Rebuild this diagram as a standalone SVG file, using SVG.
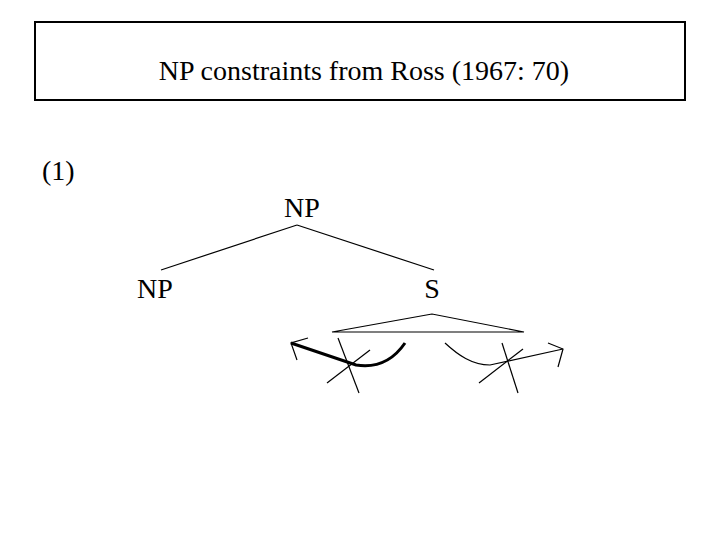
<svg xmlns="http://www.w3.org/2000/svg" width="720" height="540" viewBox="0 0 720 540">
<style>
text{font-family:"Liberation Serif","Times New Roman",serif;fill:#000}
.t{font-size:28px}
.n{font-size:28px}
.l{stroke:#000;stroke-width:1.2;fill:none}
.k{stroke:#000;stroke-width:3;fill:none}
</style>
<rect x="0" y="0" width="720" height="540" fill="#fff"/>
<g id="title">
<rect x="35" y="22" width="650" height="78" fill="#fff" stroke="#000" stroke-width="2"/>
<text class="t" x="364" y="80" text-anchor="middle">NP constraints from Ross (1967: 70)</text>
</g>
<g id="ex"><text class="t" x="42" y="180">(1)</text></g>
<g id="np-top"><text class="n" x="302" y="217" text-anchor="middle">NP</text></g>
<g id="np-left"><text class="n" x="155" y="298" text-anchor="middle">NP</text></g>
<g id="s"><text class="n" x="432" y="298" text-anchor="middle">S</text></g>
<g id="triangle"><path class="l" d="M432,314 L332,332 L524,332 Z"/></g>
<g id="connectors">
<line class="l" x1="297" y1="225" x2="161" y2="270"/>
<line class="l" x1="297" y1="225" x2="434" y2="270"/>
<path class="k" d="M405,343 C392,362 375,368 356,365 L291,343"/>
<path class="l" d="M308,338 L291,343 L297,360"/>
<line class="l" x1="338" y1="338" x2="359" y2="393"/>
<line class="l" x1="370" y1="350" x2="327" y2="383"/>
<path class="l" d="M445,343 C458,355 472,365 490,365 L563,349"/>
<path class="l" d="M548,343 L563,349 L558,367"/>
<line class="l" x1="502" y1="343" x2="518" y2="393"/>
<line class="l" x1="523" y1="349" x2="479" y2="383"/>
</g>
</svg>
